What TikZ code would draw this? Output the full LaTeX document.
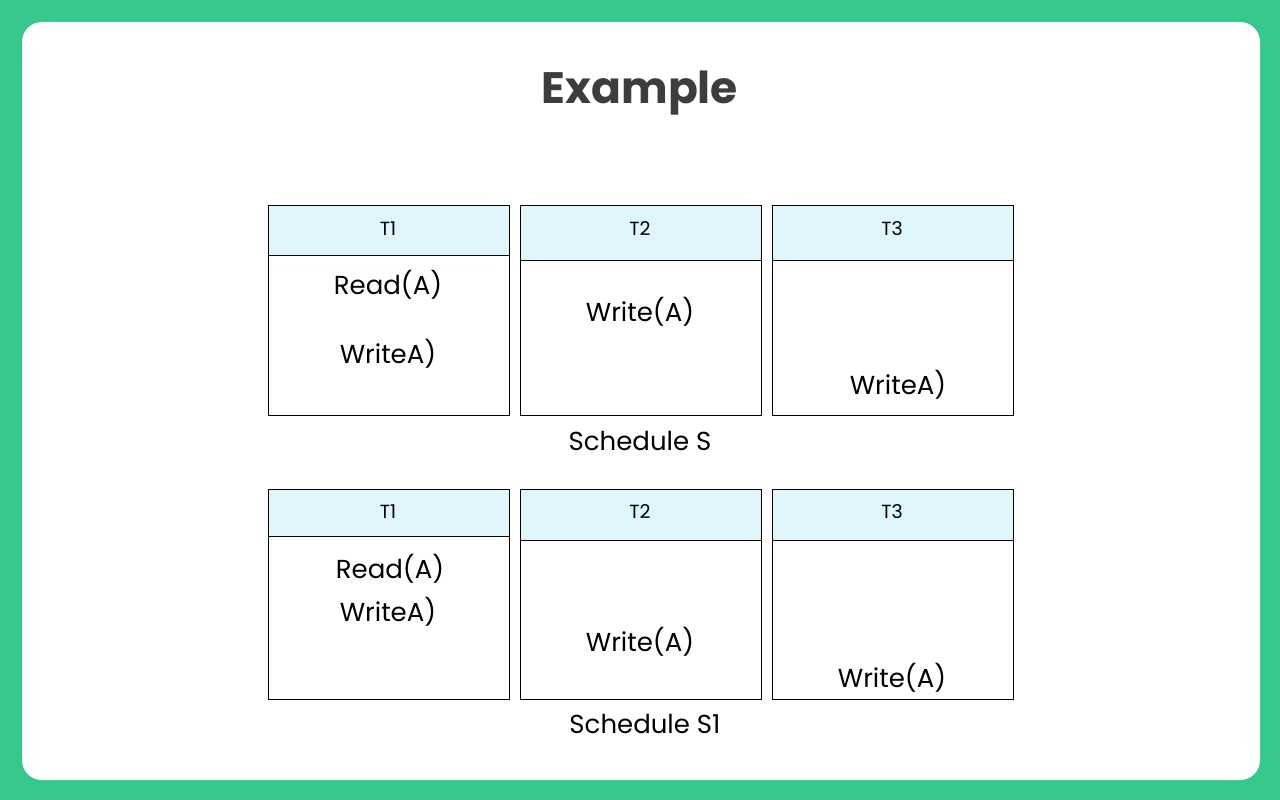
\documentclass[tikz,border=0pt]{standalone}
\usepackage{fontspec}
\setmainfont{Poppins}
\definecolor{bggreen}{HTML}{34C98A}
\definecolor{hdr}{HTML}{E0F5FB}
\definecolor{ttl}{HTML}{3D3D3D}
\begin{document}
\begin{tikzpicture}[x=1pt,y=-1pt,
  hbox/.style={draw=black,line width=0.8pt,fill=hdr},
  bbox/.style={draw=black,line width=0.8pt,fill=white},
  ht/.style={font=\fontsize{19}{22}\selectfont},
  bt/.style={font=\fontsize{26}{30}\selectfont},
]
\useasboundingbox (0,0) rectangle (1280,800);
\fill[bggreen] (0,0) rectangle (1280,800);
\fill[white,rounded corners=20pt] (22,22) rectangle (1260,780);
\node[font=\fontsize{44}{50}\selectfont\bfseries,text=ttl] (title) at (640,93) {Example};
% top row
\draw[bbox] (268,205) rectangle (509,415);
\draw[hbox] (268,205) rectangle (509,255);
\draw[bbox] (520,205) rectangle (761,415);
\draw[hbox] (520,205) rectangle (761,260);
\draw[bbox] (772,205) rectangle (1013,415);
\draw[hbox] (772,205) rectangle (1013,260);
\node[ht] (a1) at (388,229) {T1};
\node[ht] (a2) at (640,229) {T2};
\node[ht] (a3) at (892,229) {T3};
\node[bt] (r1) at (388,285) {Read(A)};
\node[bt] (w1) at (388,354) {WriteA)};
\node[bt] (w2) at (640,312) {Write(A)};
\node[bt] (w3) at (898,385) {WriteA)};
\node[bt] (s) at (640,441) {Schedule S};
% bottom row
\draw[bbox] (268,489) rectangle (509,699);
\draw[hbox] (268,489) rectangle (509,536);
\draw[bbox] (520,489) rectangle (761,699);
\draw[hbox] (520,489) rectangle (761,540);
\draw[bbox] (772,489) rectangle (1013,699);
\draw[hbox] (772,489) rectangle (1013,540);
\node[ht] (b1) at (388,512) {T1};
\node[ht] (b2) at (640,512) {T2};
\node[ht] (b3) at (892,512) {T3};
\node[bt] (r1b) at (390,569) {Read(A)};
\node[bt] (w1b) at (388,612) {WriteA)};
\node[bt] (w2b) at (640,642) {Write(A)};
\node[bt] (w3b) at (892,678) {Write(A)};
\node[bt] (s1) at (645,724) {Schedule S1};
\end{tikzpicture}
\end{document}
